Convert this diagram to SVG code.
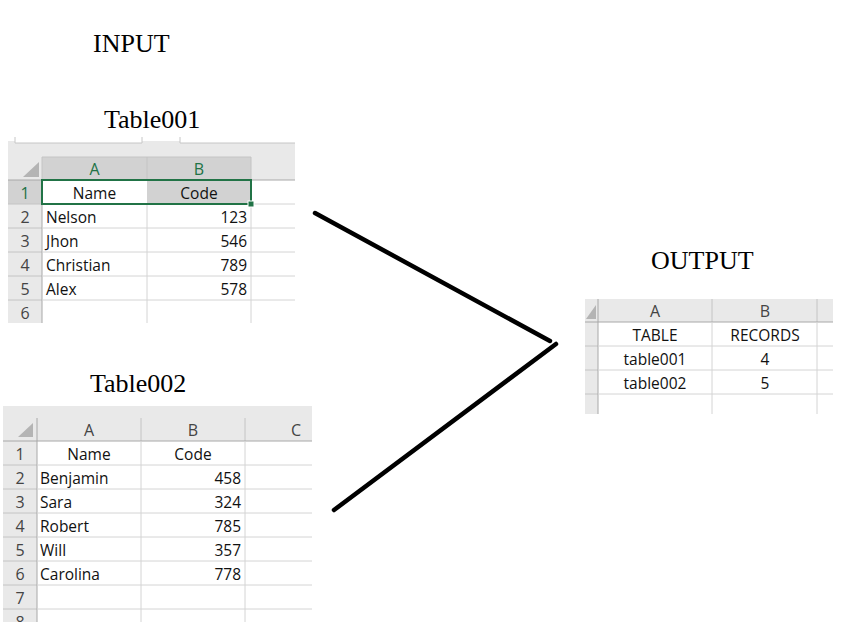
<svg xmlns="http://www.w3.org/2000/svg" width="846" height="629" viewBox="0 0 846 629">
<style>
.title{font-family:"Liberation Serif","Times New Roman",serif;font-size:26px;fill:#000}
.c{font-family:"Open Sans","Noto Sans",sans-serif;font-size:15.5px;fill:#111}
.m{text-anchor:middle}
.e{text-anchor:end}
.hd{font-family:"Open Sans","Noto Sans",sans-serif;font-size:16px;fill:#444;text-anchor:middle}
.sel{fill:#217346}
.band{fill:#e9e9e9}
.hsel{fill:#d2d2d2}
.grid{stroke:#d4d4d4;stroke-width:1;fill:none}
.hsep{stroke:#c4c4c4;stroke-width:1;fill:none}
.hedge{stroke:#a8a8a8;stroke-width:1;fill:none}
.tri{fill:#b4b4b4}
.conn{stroke:#000;stroke-width:4.5;stroke-linecap:round;fill:none}
</style>
<rect width="846" height="629" fill="#fff"/>

<g id="title-input"><text class="title" x="93" y="52">INPUT</text></g>
<g id="title-table001"><text class="title" x="104" y="128">Table001</text></g>
<g id="title-table002"><text class="title" x="90" y="392">Table002</text></g>
<g id="title-output"><text class="title" x="651" y="269">OUTPUT</text></g>

<g id="table001">
  <rect class="band" x="8" y="141" width="287" height="39"/>
  <rect x="15" y="137" width="127" height="6" fill="#fff"/>
  <rect x="180" y="137" width="115" height="6" fill="#fff"/>
  <path d="M15 137V143H142V137M180 137V143H295" fill="none" stroke="#c6c6c6"/>
  <rect class="band" x="8" y="180" width="34" height="143"/>
  <rect class="hsel" x="42" y="157" width="209" height="23"/>
  <rect class="hsel" x="8" y="180" width="34" height="24"/>
  <rect class="hsel" x="147" y="180" width="104" height="24"/>
  <polygon class="tri" points="39,162 39,177 23,177"/>
  <path class="hsep" d="M42 157V180M147 157V180M251 157V180M42 157H251M8 204H42M8 228H42M8 252H42M8 276H42M8 300H42"/>
  <path class="hedge" d="M8 180H295M42 180V323"/>
  <path class="grid" d="M42 204H295M42 228H295M42 252H295M42 276H295M42 300H295M147 204V323M251 204V323M251 180V204"/>
  <text class="hd sel" x="94.5" y="175">A</text>
  <text class="hd sel" x="199" y="175">B</text>
  <text class="hd sel" x="25" y="198.5">1</text>
  <text class="hd" x="25" y="222.5">2</text>
  <text class="hd" x="25" y="246.5">3</text>
  <text class="hd" x="25" y="270.5">4</text>
  <text class="hd" x="25" y="294.5">5</text>
  <text class="hd" x="25" y="318.5">6</text>
  <rect x="42" y="180" width="209" height="24" fill="none" stroke="#217346" stroke-width="2"/>
  <rect x="248" y="201" width="6" height="6" fill="#217346" stroke="#fff" stroke-width="1"/>
  <text class="c m" x="94.5" y="198.5">Name</text>
  <text class="c m" x="199" y="198.5">Code</text>
  <text class="c" x="46" y="222.5">Nelson</text>
  <text class="c e" x="247" y="222.5">123</text>
  <text class="c" x="46" y="246.5">Jhon</text>
  <text class="c e" x="247" y="246.5">546</text>
  <text class="c" x="46" y="270.5">Christian</text>
  <text class="c e" x="247" y="270.5">789</text>
  <text class="c" x="46" y="294.5">Alex</text>
  <text class="c e" x="247" y="294.5">578</text>
</g>

<g id="table002">
  <rect class="band" x="3" y="406" width="309" height="35"/>
  <rect class="band" x="3" y="441" width="34" height="181"/>
  <polygon class="tri" points="33,423 33,437 18,437"/>
  <path class="hsep" d="M141 418V441M245 418V441M3 465H37M3 489H37M3 513H37M3 537H37M3 561H37M3 585H37M3 609H37"/>
  <path class="hedge" d="M3 441H312M37 418V622"/>
  <path class="grid" d="M37 465H312M37 489H312M37 513H312M37 537H312M37 561H312M37 585H312M37 609H312M141 441V622M245 441V622"/>
  <text class="hd" x="89" y="436">A</text>
  <text class="hd" x="193" y="436">B</text>
  <text class="hd" x="296" y="436">C</text>
  <text class="hd" x="20" y="459.5">1</text>
  <text class="hd" x="20" y="483.5">2</text>
  <text class="hd" x="20" y="507.5">3</text>
  <text class="hd" x="20" y="531.5">4</text>
  <text class="hd" x="20" y="555.5">5</text>
  <text class="hd" x="20" y="579.5">6</text>
  <text class="hd" x="20" y="603.5">7</text>
  <text class="hd" x="20" y="627.5">8</text>
  <rect x="0" y="622" width="320" height="7" fill="#fff"/>
  <text class="c m" x="89" y="459.5">Name</text>
  <text class="c m" x="193" y="459.5">Code</text>
  <text class="c" x="40" y="483.5">Benjamin</text>
  <text class="c e" x="241" y="483.5">458</text>
  <text class="c" x="40" y="507.5">Sara</text>
  <text class="c e" x="241" y="507.5">324</text>
  <text class="c" x="40" y="531.5">Robert</text>
  <text class="c e" x="241" y="531.5">785</text>
  <text class="c" x="40" y="555.5">Will</text>
  <text class="c e" x="241" y="555.5">357</text>
  <text class="c" x="40" y="579.5">Carolina</text>
  <text class="c e" x="241" y="579.5">778</text>
</g>

<g id="output-table">
  <rect class="band" x="585" y="299" width="248" height="23"/>
  <rect class="band" x="585" y="322" width="13" height="92"/>
  <polygon class="tri" points="596,305 596,319 586,319"/>
  <path class="hsep" d="M712 299V322M817 299V322M585 346H598M585 370H598M585 394H598"/>
  <path class="hedge" d="M585 322H833M598 299V414"/>
  <path class="grid" d="M598 346H833M598 370H833M598 394H833M712 322V414M817 322V414"/>
  <text class="hd" x="655" y="317">A</text>
  <text class="hd" x="765" y="317">B</text>
  <text class="c m" x="655" y="340.5">TABLE</text>
  <text class="c m" x="765" y="340.5">RECORDS</text>
  <text class="c m" x="655" y="364.5">table001</text>
  <text class="c m" x="765" y="364.5">4</text>
  <text class="c m" x="655" y="388.5">table002</text>
  <text class="c m" x="765" y="388.5">5</text>
</g>

<g id="connectors">
  <line class="conn" x1="315" y1="213" x2="550" y2="341"/>
  <line class="conn" x1="556" y1="344" x2="334" y2="510"/>
</g>
</svg>
